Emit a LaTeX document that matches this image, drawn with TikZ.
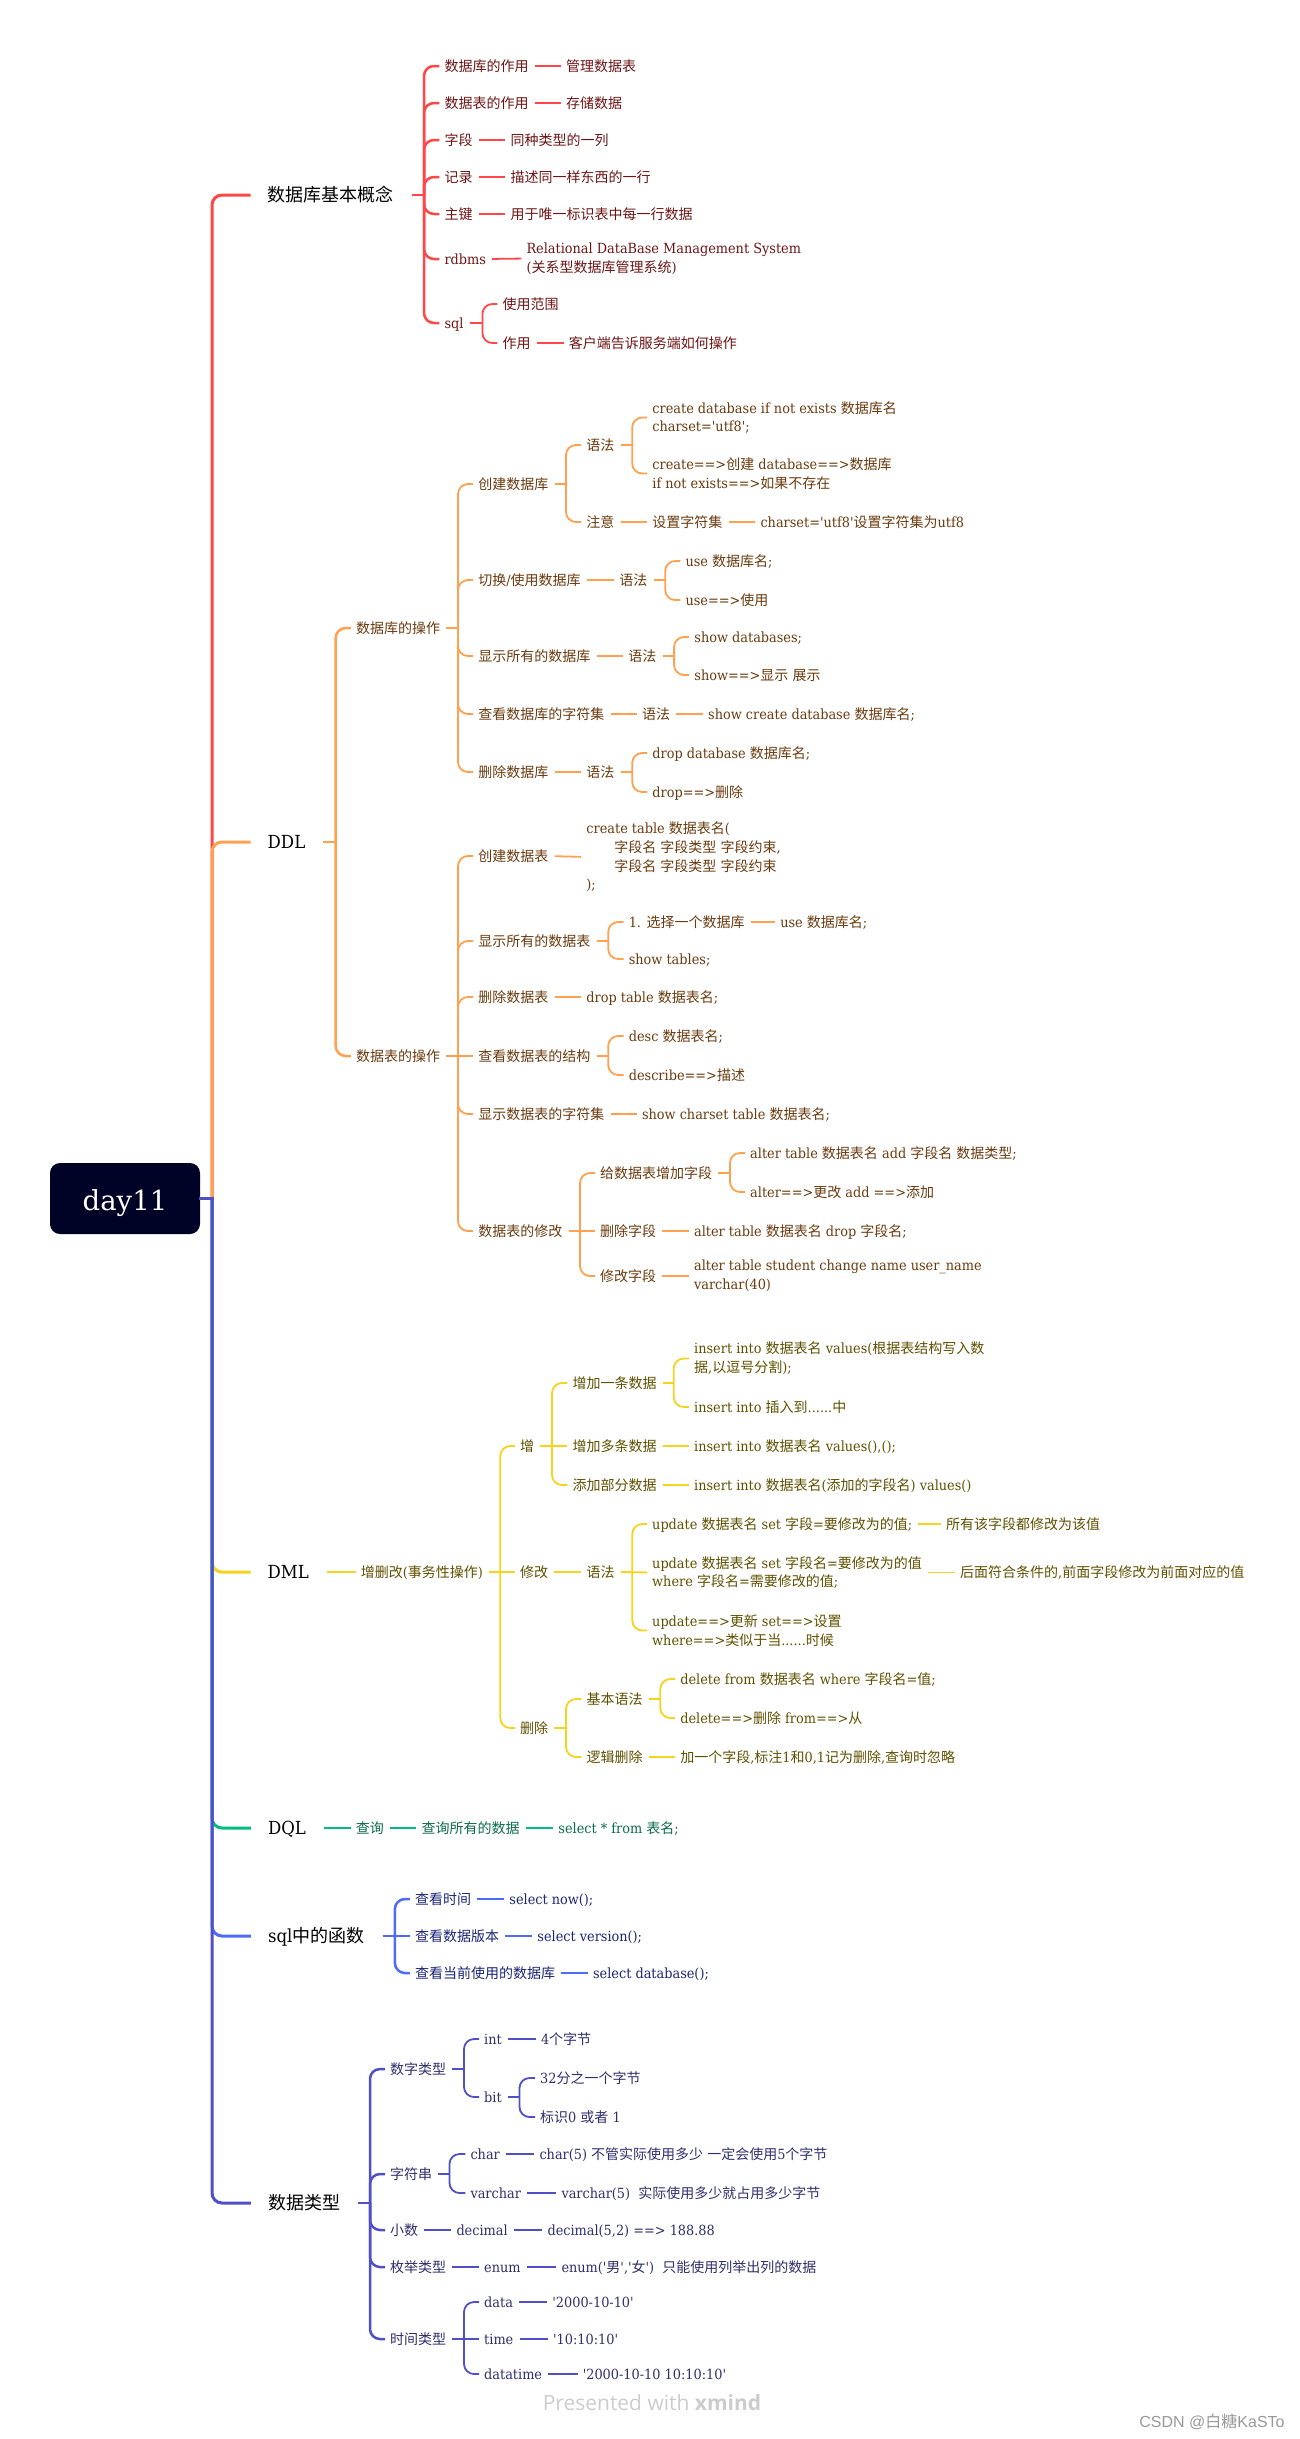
\documentclass[tikz,border=0pt]{standalone}
\usepackage{fontspec}
\setmainfont[Ligatures=TeXOff,FakeStretch=0.92]{DejaVu Serif}
\newfontfamily\cjk{Noto Sans CJK SC}
\newfontfamily\rootfont{DejaVu Serif}
\newfontfamily\markfont{Open Sans}
\newfontfamily\sitefont{Liberation Sans}
% hanzi go to the cjk family, everything else stays serif
\newXeTeXintercharclass\cjkclass
\count255=19968
\loop\ifnum\count255<40960
    \XeTeXcharclass\count255=\cjkclass
    \advance\count255 by 1
\repeat
\XeTeXinterchartoks 0 \cjkclass = {\cjk}
\XeTeXinterchartoks 4095 \cjkclass = {\cjk}
\XeTeXinterchartoks \cjkclass 0 = {\rmfamily}
\XeTeXinterchartoks \cjkclass 4095 = {\rmfamily}
\XeTeXinterchartokenstate=1
\newcommand{\NoSwitch}{\XeTeXinterchartokenstate=0 }
\definecolor{RootFill}{HTML}{000226}
\definecolor{RedLine}{HTML}{FF4747}
\definecolor{RedText}{HTML}{6E1414}
\definecolor{OrangeLine}{HTML}{FFA14F}
\definecolor{OrangeText}{HTML}{6B3A0E}
\definecolor{YellowLine}{HTML}{F7D21E}
\definecolor{YellowText}{HTML}{5F5000}
\definecolor{GreenLine}{HTML}{00BD7E}
\definecolor{GreenText}{HTML}{0B6B4A}
\definecolor{BlueLine}{HTML}{4D6BFF}
\definecolor{BlueText}{HTML}{1B2478}
\definecolor{NavyLine}{HTML}{4F4FC8}
\definecolor{NavyText}{HTML}{2E2E6E}
\tikzstyle{Topic} = [anchor=west, inner sep=0pt, text=black,
    font=\fontsize{18}{22}\selectfont, text height=15pt, text depth=3pt]
\tikzstyle{Item} = [anchor=west, inner sep=0pt, text=ItemText,
    font=\fontsize{14}{18.7}\selectfont, text height=12pt, text depth=2pt]
\tikzstyle{Multi} = [anchor=west, inner sep=0pt, text=ItemText,
    font=\fontsize{14}{18.7}\selectfont, align=left]
\tikzstyle{LineA} = [draw=Branch, line width=3pt]
\tikzstyle{LineB} = [draw=Branch, line width=2.5pt]
\tikzstyle{LineT} = [LineB, shorten <=18pt]
\tikzstyle{LineC} = [draw=Branch, line width=1.8pt]
\newcommand{\Section}[2]{\colorlet{Branch}{#1}\colorlet{ItemText}{#2}}
\newcommand{\Trunk}[1]{
    \draw[LineA, line cap=rect] (Root.east) -- (212,0 |- Root.east);
    \draw[LineA, rounded corners=10pt, shorten >=17pt] (212,0 |- Root.east) |- (#1.west);
}
\newcommand{\Fork}[4][LineC]{
    \draw[shorten <=6pt, #1] (#2.east) -- (#4,0 |- #2.east);
    \draw[#1, shorten <=0pt, shorten >=5pt, rounded corners=10pt] (#4,0 |- #2.east) |- (#3.west);
}
\newcommand{\Link}[3][LineC]{
    \draw[shorten <=6pt, shorten >=5pt, #1] (#2.east) -- (#3.west);
}

\begin{document}
\begin{tikzpicture}[x=1pt, y=-1pt]
    \useasboundingbox (0,0) rectangle (1300,2439);
    \node[fill=RootFill, text=white, rounded corners=10pt, minimum width=150pt, minimum height=71pt, inner sep=0pt,
        text height=25pt, text depth=2pt, font=\rootfont\fontsize{27.5}{32}\selectfont] (Root) at (125,1198.5) {day11};

    \begin{scope} %basic concepts
        \Section{RedLine}{RedText}
        \node[Topic] (Concept) at (267.5,195) {数据库基本概念};
        \Trunk{Concept}
        \node[Item] (DbRole) at (444.3,66) {数据库的作用};
        \node[Item] (DbRoleText) at (566,66) {管理数据表};
        \node[Item] (TblRole) at (444.3,103) {数据表的作用};
        \node[Item] (TblRoleText) at (566,103) {存储数据};
        \node[Item] (Field) at (444.3,140) {字段};
        \node[Item] (FieldText) at (510.3,140) {同种类型的一列};
        \node[Item] (Record) at (444.3,177) {记录};
        \node[Item] (RecordText) at (510.3,177) {描述同一样东西的一行};
        \node[Item] (PriKey) at (444.3,214) {主键};
        \node[Item] (PriKeyText) at (510.3,214) {用于唯一标识表中每一行数据};
        \node[Item] (Rdbms) at (444.3,259) {rdbms};
        \node[Multi] (RdbmsText) at (526.3,258.5) {Relational DataBase Management System\\(关系型数据库管理系统)};
        \node[Item] (Sql) at (444.3,323) {sql};
        \node[Item] (SqlScope) at (502.4,304) {使用范围};
        \node[Item] (SqlUse) at (502.4,343) {作用};
        \node[Item] (SqlUseText) at (568.6,343) {客户端告诉服务端如何操作};
        \Fork[LineT]{Concept}{DbRole}{424}
        \Fork[LineT]{Concept}{TblRole}{424}
        \Fork[LineT]{Concept}{Field}{424}
        \Fork[LineT]{Concept}{Record}{424}
        \Fork[LineT]{Concept}{PriKey}{424}
        \Fork[LineT]{Concept}{Rdbms}{424}
        \Fork[LineT]{Concept}{Sql}{424}
        \Link{DbRole}{DbRoleText}
        \Link{TblRole}{TblRoleText}
        \Link{Field}{FieldText}
        \Link{Record}{RecordText}
        \Link{PriKey}{PriKeyText}
        \Link{Rdbms}{RdbmsText}
        \Fork{Sql}{SqlScope}{482.4}
        \Fork{Sql}{SqlUse}{482.4}
        \Link{SqlUse}{SqlUseText}
    \end{scope}

    \begin{scope} %DDL
        \Section{OrangeLine}{OrangeText}
        \node[Topic] (Ddl) at (267.5,842) {DDL};
        \Trunk{Ddl}
        \node[Item] (DbOps) at (355.8,628) {数据库的操作};
        \node[Item] (TblOps) at (355.8,1056) {数据表的操作};
        \Fork[LineT]{Ddl}{DbOps}{335.7}
        \Fork[LineT]{Ddl}{TblOps}{335.7}
        %database operations
        \node[Item] (DbCreate) at (478.2,484) {创建数据库};
        \node[Item] (DbCreateSyntax) at (586.2,445) {语法};
        \node[Multi] (DbCreateA) at (652.2,417.5) {create database if not exists 数据库名\\charset='utf8';};
        \node[Multi] (DbCreateB) at (652.2,473.5) {create==>创建 database==>数据库\\if not exists==>如果不存在};
        \node[Item] (DbCreateNote) at (586.2,522) {注意};
        \node[Item] (DbCharset) at (652.2,522) {设置字符集};
        \node[Item] (DbCharsetText) at (760.3,522) {charset='utf8'设置字符集为utf8};
        \node[Item] (DbUse) at (478.2,580) {切换/使用数据库};
        \node[Item] (DbUseSyntax) at (619.2,580) {语法};
        \node[Item] (DbUseA) at (685.3,561) {use 数据库名;};
        \node[Item] (DbUseB) at (685.3,600) {use==>使用};
        \node[Item] (DbShow) at (478.2,656) {显示所有的数据库};
        \node[Item] (DbShowSyntax) at (628.1,656) {语法};
        \node[Item] (DbShowA) at (694.2,637) {show databases;};
        \node[Item] (DbShowB) at (694.2,675) {show==>显示 展示};
        \node[Item] (DbCharView) at (478.2,714) {查看数据库的字符集};
        \node[Item] (DbCharSyntax) at (642,714) {语法};
        \node[Item] (DbCharText) at (708,714) {show create database 数据库名;};
        \node[Item] (DbDrop) at (478.2,772) {删除数据库};
        \node[Item] (DbDropSyntax) at (586.2,772) {语法};
        \node[Item] (DbDropA) at (652.2,753) {drop database 数据库名;};
        \node[Item] (DbDropB) at (652.2,792) {drop==>删除};
        \Fork{DbOps}{DbCreate}{458}
        \Fork{DbOps}{DbUse}{458}
        \Fork{DbOps}{DbShow}{458}
        \Fork{DbOps}{DbCharView}{458}
        \Fork{DbOps}{DbDrop}{458}
        \Fork{DbCreate}{DbCreateSyntax}{566}
        \Fork{DbCreate}{DbCreateNote}{566}
        \Fork{DbCreateSyntax}{DbCreateA}{632.2}
        \Fork{DbCreateSyntax}{DbCreateB}{632.2}
        \Link{DbCreateNote}{DbCharset}
        \Link{DbCharset}{DbCharsetText}
        \Link{DbUse}{DbUseSyntax}
        \Fork{DbUseSyntax}{DbUseA}{665.2}
        \Fork{DbUseSyntax}{DbUseB}{665.2}
        \Link{DbShow}{DbShowSyntax}
        \Fork{DbShowSyntax}{DbShowA}{674.1}
        \Fork{DbShowSyntax}{DbShowB}{674.1}
        \Link{DbCharView}{DbCharSyntax}
        \Link{DbCharSyntax}{DbCharText}
        \Link{DbDrop}{DbDropSyntax}
        \Fork{DbDropSyntax}{DbDropA}{632.2}
        \Fork{DbDropSyntax}{DbDropB}{632.2}
        %table operations
        \node[Item] (TblCreate) at (478.2,856) {创建数据表};
        \node[Multi] (TblCreateText) at (586.2,857) {create table 数据表名(\\\hspace*{28pt}字段名 字段类型 字段约束,\\\hspace*{28pt}字段名 字段类型 字段约束\\);};
        \node[Item] (TblShow) at (478.2,941) {显示所有的数据表};
        \node[Item] (TblShowA) at (628.6,922) {1. 选择一个数据库};
        \node[Item] (TblShowAText) at (780.1,922) {use 数据库名;};
        \node[Item] (TblShowB) at (628.6,959) {show tables;};
        \node[Item] (TblDrop) at (478.2,997) {删除数据表};
        \node[Item] (TblDropText) at (586.2,997) {drop table 数据表名;};
        \node[Item] (TblDesc) at (478.2,1056) {查看数据表的结构};
        \node[Item] (TblDescA) at (628.6,1036) {desc 数据表名;};
        \node[Item] (TblDescB) at (628.6,1075) {describe==>描述};
        \node[Item] (TblChar) at (478.2,1114) {显示数据表的字符集};
        \node[Item] (TblCharText) at (641.8,1114) {show charset table 数据表名;};
        \node[Item] (TblAlter) at (478.2,1231) {数据表的修改};
        \node[Item] (TblAdd) at (600,1173) {给数据表增加字段};
        \node[Item] (TblAddA) at (750,1153) {alter table 数据表名 add 字段名 数据类型;};
        \node[Item] (TblAddB) at (750,1192) {alter==>更改 add ==>添加};
        \node[Item] (ColDrop) at (600,1231) {删除字段};
        \node[Item] (ColDropText) at (693.9,1231) {alter table 数据表名 drop 字段名;};
        \node[Item] (ColChange) at (600,1276) {修改字段};
        \node[Multi] (ColChangeText) at (693.9,1276) {alter table student change name user\_name\\varchar(40)};
        \Fork{TblOps}{TblCreate}{458}
        \Fork{TblOps}{TblShow}{458}
        \Fork{TblOps}{TblDrop}{458}
        \Link{TblOps}{TblDesc}
        \Fork{TblOps}{TblChar}{458}
        \Fork{TblOps}{TblAlter}{458}
        \Link{TblCreate}{TblCreateText}
        \Fork{TblShow}{TblShowA}{608.2}
        \Fork{TblShow}{TblShowB}{608.2}
        \Link{TblShowA}{TblShowAText}
        \Link{TblDrop}{TblDropText}
        \Fork{TblDesc}{TblDescA}{608.2}
        \Fork{TblDesc}{TblDescB}{608.2}
        \Link{TblChar}{TblCharText}
        \Fork{TblAlter}{TblAdd}{580}
        \Link{TblAlter}{ColDrop}
        \Fork{TblAlter}{ColChange}{580}
        \Fork{TblAdd}{TblAddA}{730}
        \Fork{TblAdd}{TblAddB}{730}
        \Link{ColDrop}{ColDropText}
        \Link{ColChange}{ColChangeText}
    \end{scope}

    \begin{scope} %DML
        \Section{YellowLine}{YellowText}
        \node[Topic] (Dml) at (267.5,1572) {DML};
        \Trunk{Dml}
        \node[Item] (Crud) at (360.6,1572) {增删改(事务性操作)};
        \Link[LineT]{Dml}{Crud}
        \node[Item] (Ins) at (520,1446) {增};
        \node[Item] (Upd) at (520,1572) {修改};
        \node[Item] (Del) at (520,1728) {删除};
        \Fork{Crud}{Ins}{500.3}
        \Link{Crud}{Upd}
        \Fork{Crud}{Del}{500.3}
        \node[Item] (InsOne) at (572.3,1383) {增加一条数据};
        \node[Multi] (InsOneA) at (694,1358.5) {insert into 数据表名 values(根据表结构写入数\\据,以逗号分割);};
        \node[Item] (InsOneB) at (694,1407) {insert into 插入到......中};
        \node[Item] (InsMany) at (572.3,1446) {增加多条数据};
        \node[Item] (InsManyText) at (694,1446) {insert into 数据表名 values(),();};
        \node[Item] (InsPart) at (572.3,1485) {添加部分数据};
        \node[Item] (InsPartText) at (694,1485) {insert into 数据表名(添加的字段名) values()};
        \Fork{Ins}{InsOne}{552}
        \Link{Ins}{InsMany}
        \Fork{Ins}{InsPart}{552}
        \Fork{InsOne}{InsOneA}{673.7}
        \Fork{InsOne}{InsOneB}{673.7}
        \Link{InsMany}{InsManyText}
        \Link{InsPart}{InsPartText}
        \node[Item] (UpdSyntax) at (586.4,1572) {语法};
        \node[Item] (UpdA) at (652,1524) {update 数据表名 set 字段=要修改为的值;};
        \node[Item] (UpdAText) at (946,1524) {所有该字段都修改为该值};
        \node[Multi] (UpdB) at (652,1572.5) {update 数据表名 set 字段名=要修改为的值\\where 字段名=需要修改的值;};
        \node[Item] (UpdBText) at (960,1572.5) {后面符合条件的,前面字段修改为前面对应的值};
        \node[Multi] (UpdC) at (652,1630.5) {update==>更新 set==>设置\\where==>类似于当......时候};
        \Link{Upd}{UpdSyntax}
        \Fork{UpdSyntax}{UpdA}{632.3}
        \Link{UpdSyntax}{UpdB}
        \Fork{UpdSyntax}{UpdC}{632.3}
        \Link{UpdA}{UpdAText}
        \Link{UpdB}{UpdBText}
        \node[Item] (DelBase) at (586.4,1699) {基本语法};
        \node[Item] (DelBaseA) at (680.1,1679) {delete from 数据表名 where 字段名=值;};
        \node[Item] (DelBaseB) at (680.1,1718) {delete==>删除 from==>从};
        \node[Item] (DelLogic) at (586.4,1757) {逻辑删除};
        \node[Item] (DelLogicText) at (680.1,1757) {加一个字段,标注1和0,1记为删除,查询时忽略};
        \Fork{Del}{DelBase}{566}
        \Fork{Del}{DelLogic}{566}
        \Fork{DelBase}{DelBaseA}{660.3}
        \Fork{DelBase}{DelBaseB}{660.3}
        \Link{DelLogic}{DelLogicText}
    \end{scope}

    \begin{scope} %DQL
        \Section{GreenLine}{GreenText}
        \node[Topic] (Dql) at (267.9,1828) {DQL};
        \Trunk{Dql}
        \node[Item] (Query) at (355.6,1828) {查询};
        \node[Item] (QueryAll) at (421.4,1828) {查询所有的数据};
        \node[Item] (QueryText) at (558.2,1828) {select * from 表名;};
        \Link[LineT]{Dql}{Query}
        \Link{Query}{QueryAll}
        \Link{QueryAll}{QueryText}
    \end{scope}

    \begin{scope} %functions
        \Section{BlueLine}{BlueText}
        \node[Topic] (Func) at (267.9,1936) {sql中的函数};
        \Trunk{Func}
        \node[Item] (FuncNow) at (414.8,1899) {查看时间};
        \node[Item] (FuncNowText) at (509.2,1899) {select now();};
        \node[Item] (FuncVer) at (414.8,1936) {查看数据版本};
        \node[Item] (FuncVerText) at (537.2,1936) {select version();};
        \node[Item] (FuncDb) at (414.8,1973) {查看当前使用的数据库};
        \node[Item] (FuncDbText) at (592.9,1973) {select database();};
        \Fork[LineT]{Func}{FuncNow}{394.9}
        \Link[LineT]{Func}{FuncVer}
        \Fork[LineT]{Func}{FuncDb}{394.9}
        \Link{FuncNow}{FuncNowText}
        \Link{FuncVer}{FuncVerText}
        \Link{FuncDb}{FuncDbText}
    \end{scope}

    \begin{scope} %data types
        \Section{NavyLine}{NavyText}
        \node[Topic] (Types) at (267.9,2203) {数据类型};
        \Trunk{Types}
        \node[Item] (TypeNum) at (390,2069) {数字类型};
        \node[Item] (TypeInt) at (484,2039) {int};
        \node[Item] (TypeIntText) at (540.8,2039) {4个字节};
        \node[Item] (TypeBit) at (484,2097) {bit};
        \node[Item] (TypeBitA) at (540,2078) {32分之一个字节};
        \node[Item] (TypeBitB) at (540,2117) {标识0 或者 1};
        \node[Item] (TypeStr) at (390,2174) {字符串};
        \node[Item] (TypeChar) at (470.3,2154) {char};
        \node[Item] (TypeCharText) at (539.3,2154) {char(5) 不管实际使用多少 一定会使用5个字节};
        \node[Item] (TypeVar) at (470.3,2193) {varchar};
        \node[Item] (TypeVarText) at (561.3,2193) {varchar(5) \ 实际使用多少就占用多少字节};
        \node[Item] (TypeDec) at (390,2230) {小数};
        \node[Item] (TypeDecName) at (456.3,2230) {decimal};
        \node[Item] (TypeDecText) at (547.3,2230) {decimal(5,2) ==> 188.88};
        \node[Item] (TypeEnum) at (390,2267) {枚举类型};
        \node[Item] (TypeEnumName) at (484,2267) {enum};
        \node[Item] (TypeEnumText) at (561.3,2267) {enum('男','女') \ 只能使用列举出列的数据};
        \node[Item] (TypeTime) at (390,2339) {时间类型};
        \node[Item] (TimeData) at (484,2302) {data};
        \node[Item] (TimeDataText) at (552.2,2302) {'2000-10-10'};
        \node[Item] (TimeTime) at (484,2339) {time};
        \node[Item] (TimeTimeText) at (553,2339) {'10:10:10'};
        \node[Item] (TimeFull) at (484,2374) {datatime};
        \node[Item] (TimeFullText) at (582.6,2374) {'2000-10-10 10:10:10'};
        \Fork[LineT]{Types}{TypeNum}{370}
        \Fork[LineT]{Types}{TypeStr}{370}
        \Fork[LineT]{Types}{TypeDec}{370}
        \Fork[LineT]{Types}{TypeEnum}{370}
        \Fork[LineT]{Types}{TypeTime}{370}
        \Fork{TypeNum}{TypeInt}{464}
        \Fork{TypeNum}{TypeBit}{464}
        \Link{TypeInt}{TypeIntText}
        \Fork{TypeBit}{TypeBitA}{519.5}
        \Fork{TypeBit}{TypeBitB}{519.5}
        \Fork{TypeStr}{TypeChar}{449.5}
        \Fork{TypeStr}{TypeVar}{449.5}
        \Link{TypeChar}{TypeCharText}
        \Link{TypeVar}{TypeVarText}
        \Link{TypeDec}{TypeDecName}
        \Link{TypeDecName}{TypeDecText}
        \Link{TypeEnum}{TypeEnumName}
        \Link{TypeEnumName}{TypeEnumText}
        \Fork{TypeTime}{TimeData}{464}
        \Link{TypeTime}{TimeTime}
        \Fork{TypeTime}{TimeFull}{464}
        \Link{TimeData}{TimeDataText}
        \Link{TimeTime}{TimeTimeText}
        \Link{TimeFull}{TimeFullText}
    \end{scope}

    \node[text=black!20, inner sep=0pt, font=\NoSwitch\markfont\fontsize{21}{25}\selectfont] (Watermark) at (652,2403) {Presented with \textbf{xmind}};
    \node[text=black!40, inner sep=0pt, font=\NoSwitch\sitefont\fontsize{16}{19}\selectfont] (Site) at (1212,2422) {CSDN @{\cjk 白糖}KaSTo};
\end{tikzpicture}
\end{document}
